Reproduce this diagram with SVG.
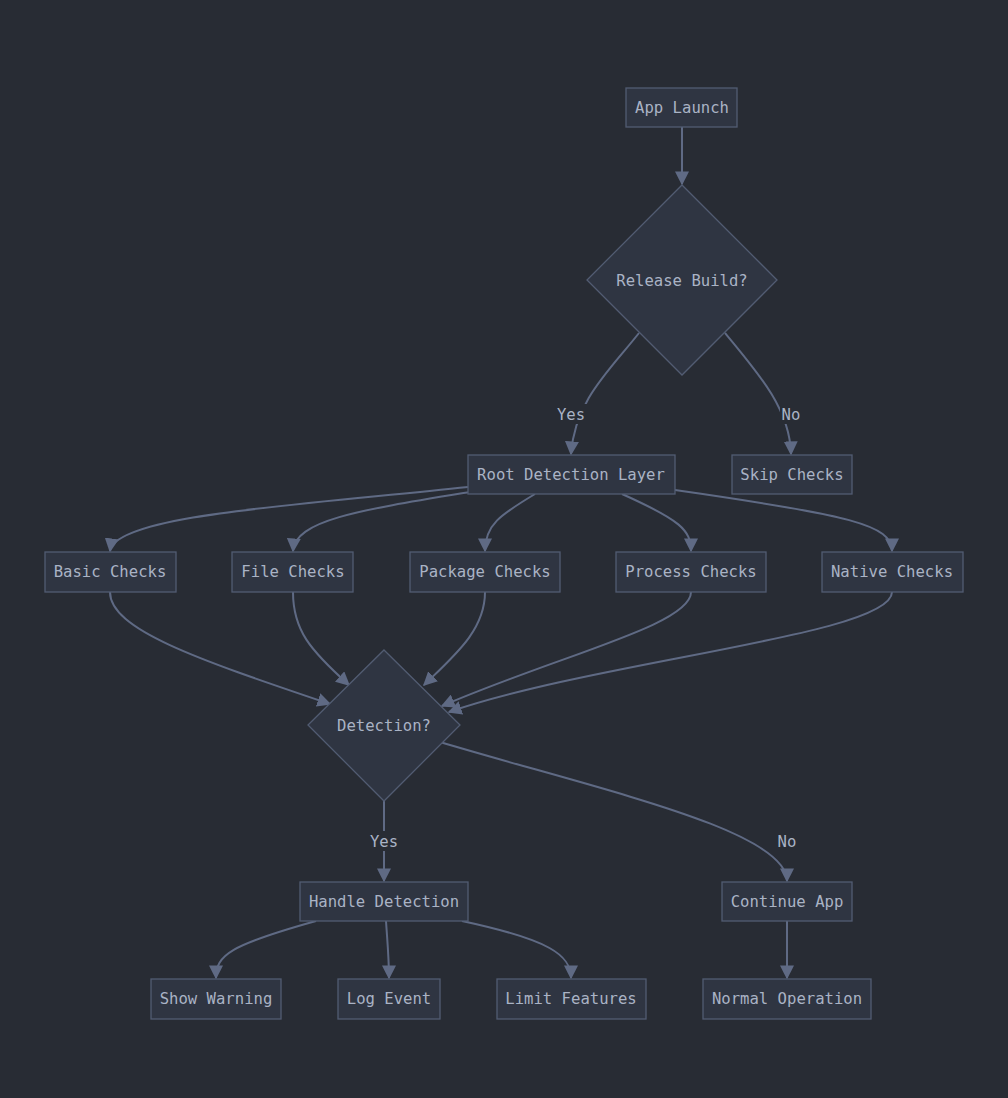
<svg xmlns="http://www.w3.org/2000/svg" width="1008" height="1098" viewBox="0 0 1008 1098">
<style>
.n{fill:#2f3542;stroke:#525c72;stroke-width:1.3}
.t{font-family:"DejaVu Sans Mono","Liberation Mono",monospace;font-size:15.6px;fill:#aab3c5;text-anchor:middle;dominant-baseline:central}
.e{fill:none;stroke:#5f6a84;stroke-width:2}
.l{font-family:"DejaVu Sans Mono","Liberation Mono",monospace;font-size:15.6px;fill:#aab3c5;text-anchor:middle;dominant-baseline:central}
</style>
<defs><marker id="a" viewBox="0 0 10 10" refX="9" refY="5" markerWidth="14" markerHeight="14" markerUnits="userSpaceOnUse" orient="auto"><path d="M0,0L10,5L0,10z" fill="#5f6a84"/></marker></defs>
<rect width="1008" height="1098" fill="#282c34"/>
<g id="edges">
<path class="e" marker-end="url(#a)" d="M682,127V184"/>
<path class="e" marker-end="url(#a)" d="M639,333C610,370 575,400 571,454"/>
<path class="e" marker-end="url(#a)" d="M725,333C760,375 790,410 791,454"/>
<path class="e" marker-end="url(#a)" d="M468,487C300,505 115,515 110,551"/>
<path class="e" marker-end="url(#a)" d="M470,492C360,510 295,520 293,551"/>
<path class="e" marker-end="url(#a)" d="M535,494C500,515 485,525 485,551"/>
<path class="e" marker-end="url(#a)" d="M622,494C680,520 691,530 691,551"/>
<path class="e" marker-end="url(#a)" d="M675,490C850,515 892,525 892,551"/>
<path class="e" marker-end="url(#a)" d="M110,592C110,630 200,660 330,704"/>
<path class="e" marker-end="url(#a)" d="M293,592C293,630 310,650 349,685"/>
<path class="e" marker-end="url(#a)" d="M485,592C485,630 455,655 424,685"/>
<path class="e" marker-end="url(#a)" d="M691,592C691,625 560,655 442,706"/>
<path class="e" marker-end="url(#a)" d="M892,592C892,635 600,660 449,712"/>
<path class="e" marker-end="url(#a)" d="M384,801V881"/>
<path class="e" marker-end="url(#a)" d="M440,742C600,790 787,830 787,881"/>
<path class="e" marker-end="url(#a)" d="M787,921V978"/>
<path class="e" marker-end="url(#a)" d="M316,921C230,945 216,955 216,978"/>
<path class="e" marker-end="url(#a)" d="M386,921C388,950 389,960 389,978"/>
<path class="e" marker-end="url(#a)" d="M462,921C550,940 571,955 571,978"/>
<rect x="555" y="404" width="34" height="20" fill="#282c34"/><text class="l" x="571" y="415">Yes</text>
<rect x="780" y="404" width="22" height="20" fill="#282c34"/><text class="l" x="791" y="415">No</text>
<rect x="367" y="831" width="34" height="20" fill="#282c34"/><text class="l" x="384" y="842">Yes</text>
<rect x="776" y="831" width="22" height="20" fill="#282c34"/><text class="l" x="787" y="842">No</text>
</g>
<g id="app"><rect class="n" x="626" y="88" width="111" height="39"/><text class="t" x="682" y="108">App Launch</text></g>
<g id="release"><path class="n" d="M682,185L777,280L682,375L587,280z"/><text class="t" x="682" y="281">Release Build?</text></g>
<g id="root"><rect class="n" x="468" y="455" width="207" height="39"/><text class="t" x="571" y="475">Root Detection Layer</text></g>
<g id="skip"><rect class="n" x="732" y="455" width="120" height="39"/><text class="t" x="792" y="475">Skip Checks</text></g>
<g id="basic"><rect class="n" x="45" y="552" width="131" height="40"/><text class="t" x="110" y="572">Basic Checks</text></g>
<g id="file"><rect class="n" x="232" y="552" width="121" height="40"/><text class="t" x="293" y="572">File Checks</text></g>
<g id="package"><rect class="n" x="410" y="552" width="150" height="40"/><text class="t" x="485" y="572">Package Checks</text></g>
<g id="process"><rect class="n" x="616" y="552" width="150" height="40"/><text class="t" x="691" y="572">Process Checks</text></g>
<g id="native"><rect class="n" x="822" y="552" width="141" height="40"/><text class="t" x="892" y="572">Native Checks</text></g>
<g id="detection"><path class="n" d="M384,650L460,725L384,801L308,725z"/><text class="t" x="384" y="726">Detection?</text></g>
<g id="handle"><rect class="n" x="300" y="882" width="168" height="39"/><text class="t" x="384" y="902">Handle Detection</text></g>
<g id="continue"><rect class="n" x="722" y="882" width="130" height="39"/><text class="t" x="787" y="902">Continue App</text></g>
<g id="warn"><rect class="n" x="151" y="979" width="130" height="40"/><text class="t" x="216" y="999">Show Warning</text></g>
<g id="log"><rect class="n" x="338" y="979" width="102" height="40"/><text class="t" x="389" y="999">Log Event</text></g>
<g id="limit"><rect class="n" x="497" y="979" width="149" height="40"/><text class="t" x="571" y="999">Limit Features</text></g>
<g id="normal"><rect class="n" x="703" y="979" width="168" height="40"/><text class="t" x="787" y="999">Normal Operation</text></g>
</svg>
